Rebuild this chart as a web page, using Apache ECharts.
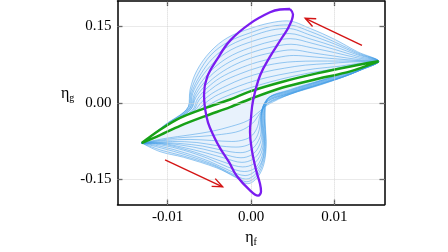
<!DOCTYPE html>
<html>
<head>
<meta charset="utf-8">
<script src="https://cdn.jsdelivr.net/npm/echarts@6/dist/echarts.min.js"></script>
<style>
html, body { margin: 0; background: #fff; }
#chart { width: 448px; height: 252px; }
</style>
</head>
<body>
<div id="chart"></div>
<script>
// tick values
var xTicks = [-0.01, 0, 0.01];
var yTicks = [-0.15, 0, 0.15];

// green loop (eta_f, eta_g)
var greenLoop = [
  [-0.0131, -0.079], [-0.0109, -0.0530], [-0.0085, -0.0296], [-0.0055, -0.0105], [-0.0025, 0.0065],
  [-0.0001, 0.0225], [0.0038, 0.0415], [0.0079, 0.0578], [0.0119, 0.0715], [0.0153, 0.0815],
  [0.0119, 0.0618], [0.0079, 0.0468], [0.0038, 0.0300], [-0.0001, 0.0075], [-0.0025, -0.0085],
  [-0.0055, -0.0262], [-0.0085, -0.0452], [-0.0109, -0.0635], [-0.0131, -0.079]
];

// purple loop
var purpleLoop = [
  [0.00467, 0.1843], [0.00347, 0.1833], [0.00228, 0.1778], [-0.00012, 0.1556], [-0.00251, 0.1222],
  [-0.00407, 0.0852], [-0.00527, 0.05], [-0.00563, 0.0167], [-0.00551, -0.0111], [-0.00515, -0.0389],
  [-0.00443, -0.0667], [-0.00371, -0.0889], [-0.00263, -0.1167], [-0.00168, -0.1444], [-0.00012, -0.1722],
  [0.00084, -0.1824], [0.0012, -0.1741], [0.00108, -0.1593], [0.0006, -0.1315], [0.00012, -0.0944],
  [-0.00012, -0.0574], [0, -0.0296], [0.00024, 0.0037], [0.00108, 0.0537], [0.00228, 0.0907],
  [0.00371, 0.1278], [0.00455, 0.15], [0.00503, 0.1741], [0.00467, 0.1843]
];

// blue loops, outermost first
var blueLoop1 = [
  [-0.0131, -0.079], [-0.0103, -0.043], [-0.0075, -0.007], [-0.0073, 0.026], [-0.0065, 0.063],
  [-0.0049, 0.100], [-0.0028, 0.128], [-0.0001, 0.146], [0.0023, 0.157], [0.0043, 0.161],
  [0.0071, 0.146], [0.0101, 0.124], [0.0128, 0.100], [0.0153, 0.0815],
  [0.0119, 0.063], [0.0083, 0.044], [0.0047, 0.026], [0.0020, 0.007], [0.0017, -0.030],
  [0.0018, -0.076], [0.0016, -0.117], [0.0008, -0.146], [-0.0004, -0.159], [-0.0019, -0.146],
  [-0.0041, -0.128], [-0.0081, -0.107], [-0.0109, -0.096], [-0.0131, -0.079]
];
var blueLoop2 = [
  [-0.0131, -0.079], [-0.0103, -0.044], [-0.0075, -0.008], [-0.0072, 0.023], [-0.0063, 0.058],
  [-0.0048, 0.094], [-0.0027, 0.120], [0, 0.138], [0.0024, 0.150], [0.0044, 0.153],
  [0.0071, 0.140], [0.0101, 0.119], [0.0128, 0.098], [0.0153, 0.0815],
  [0.0119, 0.062], [0.0083, 0.043], [0.0047, 0.025], [0.0019, 0.006], [0.0016, -0.030],
  [0.0018, -0.076], [0.0015, -0.115], [0.0007, -0.143], [-0.0005, -0.155], [-0.0021, -0.143],
  [-0.0044, -0.124], [-0.0080, -0.105], [-0.0108, -0.093], [-0.0131, -0.079]
];
var blueLoop3 = [
  [-0.0131, -0.079], [-0.0103, -0.044], [-0.0074, -0.009], [-0.0071, 0.020], [-0.0061, 0.054],
  [-0.0046, 0.087], [-0.0025, 0.113], [0.0001, 0.131], [0.0025, 0.143], [0.0044, 0.146],
  [0.0071, 0.133], [0.0101, 0.115], [0.0128, 0.096], [0.0153, 0.0815],
  [0.0119, 0.061], [0.0083, 0.043], [0.0047, 0.024], [0.0019, 0.006], [0.0016, -0.030],
  [0.0017, -0.076], [0.0014, -0.113], [0.0006, -0.139], [-0.0006, -0.150], [-0.0023, -0.139],
  [-0.0047, -0.120], [-0.0079, -0.102], [-0.0107, -0.089], [-0.0131, -0.079]
];
var blueLoop4 = [
  [-0.0131, -0.079], [-0.0102, -0.045], [-0.0073, -0.010], [-0.0070, 0.018], [-0.0060, 0.049],
  [-0.0044, 0.080], [-0.0024, 0.104], [0.0002, 0.121], [0.0027, 0.132], [0.0046, 0.136],
  [0.0072, 0.125], [0.0101, 0.110], [0.0128, 0.094], [0.0153, 0.0815],
  [0.0119, 0.060], [0.0083, 0.042], [0.0047, 0.023], [0.0018, 0.005], [0.0015, -0.030],
  [0.0016, -0.074], [0.0014, -0.110], [0.0005, -0.134], [-0.0007, -0.143], [-0.0026, -0.133],
  [-0.0050, -0.115], [-0.0080, -0.098], [-0.0107, -0.086], [-0.0131, -0.079]
];
var blueLoop5 = [
  [-0.0131, -0.079], [-0.0102, -0.046], [-0.0073, -0.011], [-0.0068, 0.017], [-0.0058, 0.044],
  [-0.0042, 0.072], [-0.0022, 0.094], [0.0004, 0.111], [0.0028, 0.122], [0.0047, 0.126],
  [0.0073, 0.117], [0.0102, 0.104], [0.0128, 0.091], [0.0153, 0.0815],
  [0.0119, 0.059], [0.0083, 0.041], [0.0047, 0.022], [0.0018, 0.004], [0.0014, -0.030],
  [0.0016, -0.072], [0.0013, -0.106], [0.0005, -0.128], [-0.0008, -0.135], [-0.0028, -0.126],
  [-0.0052, -0.109], [-0.0081, -0.093], [-0.0107, -0.083], [-0.0131, -0.079]
];
var blueLoop6 = [
  [-0.0131, -0.079], [-0.0101, -0.047], [-0.0072, -0.012], [-0.0067, 0.014], [-0.0056, 0.040],
  [-0.0040, 0.065], [-0.0020, 0.085], [0.0005, 0.101], [0.0029, 0.111], [0.0048, 0.115],
  [0.0073, 0.108], [0.0102, 0.098], [0.0128, 0.088], [0.0153, 0.0815],
  [0.0119, 0.058], [0.0083, 0.040], [0.0047, 0.021], [0.0018, 0.003], [0.0013, -0.030],
  [0.0015, -0.070], [0.0012, -0.100], [0.0003, -0.120], [-0.0010, -0.126], [-0.0030, -0.118],
  [-0.0054, -0.104], [-0.0082, -0.090], [-0.0107, -0.081], [-0.0131, -0.079]
];
var blueLoop7 = [
  [-0.0131, -0.079], [-0.0101, -0.048], [-0.0072, -0.013], [-0.0066, 0.011], [-0.0054, 0.035],
  [-0.0038, 0.057], [-0.0018, 0.076], [0.0006, 0.091], [0.0030, 0.100], [0.0049, 0.104],
  [0.0074, 0.098], [0.0103, 0.091], [0.0129, 0.085], [0.0153, 0.0815],
  [0.0119, 0.057], [0.0083, 0.039], [0.0047, 0.020], [0.0018, 0.002], [0.0013, -0.030],
  [0.0014, -0.067], [0.0011, -0.094], [0.0002, -0.111], [-0.0011, -0.117], [-0.0031, -0.109],
  [-0.0055, -0.098], [-0.0083, -0.087], [-0.0107, -0.080], [-0.0131, -0.079]
];
var blueLoop8 = [
  [-0.0131, -0.079], [-0.0100, -0.049], [-0.0070, -0.014], [-0.0064, 0.008], [-0.0052, 0.030],
  [-0.0037, 0.049], [-0.0016, 0.066], [0.0008, 0.080], [0.0032, 0.089], [0.0051, 0.093],
  [0.0076, 0.090], [0.0104, 0.086], [0.0130, 0.083], [0.0153, 0.0815],
  [0.0119, 0.056], [0.0083, 0.038], [0.0047, 0.019], [0.0018, 0.001], [0.0012, -0.029],
  [0.0013, -0.062], [0.0009, -0.087], [0.0001, -0.102], [-0.0012, -0.108], [-0.0033, -0.101],
  [-0.0057, -0.091], [-0.0084, -0.083], [-0.0108, -0.079], [-0.0131, -0.079]
];
var blueLoop9 = [
  [-0.0131, -0.079], [-0.0099, -0.050], [-0.0069, -0.015], [-0.0062, 0.006], [-0.0050, 0.024],
  [-0.0035, 0.041], [-0.0013, 0.057], [0.0010, 0.070], [0.0034, 0.078], [0.0053, 0.081],
  [0.0078, 0.082], [0.0105, 0.082], [0.0131, 0.082], [0.0153, 0.0815],
  [0.0119, 0.056], [0.0083, 0.037], [0.0047, 0.019], [0.0018, 0.000], [0.0012, -0.028],
  [0.0012, -0.057], [0.0007, -0.080], [-0.0001, -0.093], [-0.0013, -0.098], [-0.0035, -0.093],
  [-0.0058, -0.085], [-0.0085, -0.080], [-0.0109, -0.078], [-0.0131, -0.079]
];
var blueLoop10 = [
  [-0.0131, -0.079], [-0.0098, -0.051], [-0.0068, -0.016], [-0.0059, 0.002], [-0.0047, 0.018],
  [-0.0030, 0.033], [-0.0009, 0.048], [0.0015, 0.060], [0.0040, 0.068], [0.0065, 0.074],
  [0.0092, 0.077], [0.0118, 0.080], [0.0153, 0.0815],
  [0.0119, 0.056], [0.0083, 0.036], [0.0047, 0.018], [0.0019, -0.001], [0.0012, -0.026],
  [0.0010, -0.052], [0.0005, -0.072], [-0.0004, -0.083], [-0.0018, -0.087], [-0.0041, -0.084],
  [-0.0065, -0.078], [-0.0094, -0.076], [-0.0131, -0.079]
];
var blueLoop11 = [
  [-0.0131, -0.079], [-0.0097, -0.052], [-0.0066, -0.017], [-0.0056, -0.002], [-0.0043, 0.013],
  [-0.0025, 0.026], [-0.0004, 0.039], [0.0020, 0.050], [0.0047, 0.059], [0.0077, 0.067],
  [0.0107, 0.072], [0.0131, 0.078], [0.0153, 0.0815],
  [0.0119, 0.056], [0.0083, 0.035], [0.0047, 0.017], [0.0019, -0.002], [0.0011, -0.024],
  [0.0008, -0.046], [0.0002, -0.063], [-0.0007, -0.072], [-0.0023, -0.076], [-0.0047, -0.074],
  [-0.0073, -0.072], [-0.0103, -0.074], [-0.0131, -0.079]
];
var blueLoop12 = [
  [-0.0131, -0.079], [-0.0096, -0.051], [-0.0063, -0.018], [-0.0050, -0.004], [-0.0034, 0.010],
  [-0.0013, 0.023], [0.0010, 0.035], [0.0037, 0.047], [0.0068, 0.058], [0.0098, 0.066],
  [0.0125, 0.075], [0.0153, 0.0815],
  [0.0119, 0.056], [0.0083, 0.036], [0.0047, 0.017], [0.0019, -0.003], [0.0010, -0.022],
  [0.0002, -0.040], [-0.0013, -0.055], [-0.0035, -0.062], [-0.0060, -0.066], [-0.0088, -0.069],
  [-0.0131, -0.079]
];
var blueLoop13 = [
  [-0.0131, -0.079], [-0.0095, -0.050], [-0.0061, -0.019], [-0.0043, -0.006], [-0.0023, 0.007],
  [0.0001, 0.020], [0.0029, 0.035], [0.0059, 0.048], [0.0089, 0.061], [0.0119, 0.072],
  [0.0153, 0.0815],
  [0.0119, 0.057], [0.0083, 0.037], [0.0047, 0.017], [0.0020, -0.004], [0.0008, -0.020],
  [-0.0004, -0.035], [-0.0023, -0.046], [-0.0047, -0.056], [-0.0073, -0.063], [-0.0103, -0.070],
  [-0.0131, -0.079]
];
var blueLoops = [blueLoop1, blueLoop2, blueLoop3, blueLoop4, blueLoop5, blueLoop6, blueLoop7,
  blueLoop8, blueLoop9, blueLoop10, blueLoop11, blueLoop12, blueLoop13];

// red arrows: [x0, y0, x1, y1]
var arrows = [
  [0.0133, 0.113, 0.0065, 0.166],
  [-0.0103, -0.112, -0.0034, -0.165]
];

var serif = 'Liberation Serif';
var myChart = echarts.init(document.getElementById('chart'));

// filled polygon through the chart's own scale
function loopFill(loop, fill, z) {
  return {
    type: 'custom',
    z: z,
    silent: true,
    data: [[loop[0][0], loop[0][1]]],
    renderItem: function(params, api) {
      var pts = loop.map(function(p) { return api.coord(p); });
      return {
        type: 'polygon',
        shape: { points: pts, smooth: 0.3 },
        style: { fill: fill }
      };
    }
  };
}

var series = [];

var blueFill = loopFill(blueLoop1, 'rgba(110,175,235,0.16)', 1);
blueFill.markLine = {
  silent: true,
  symbol: 'none',
  label: { show: false },
  lineStyle: { type: 'dotted', color: '#d4d4d4', width: 1 },
  data: xTicks.map(function(v) { return { xAxis: v }; })
    .concat(yTicks.map(function(v) { return { yAxis: v }; }))
};
series.push(blueFill);

for (var i = 0; i < blueLoops.length; i++) {
  series.push({
    type: 'line',
    z: 2,
    data: blueLoops[i],
    showSymbol: false,
    smooth: 0.35,
    lineStyle: { color: '#3f9be6', width: 0.7, opacity: 0.75 }
  });
}

// white gap between the two green strands
series.push(loopFill(greenLoop, '#ffffff', 3));

series.push({
  type: 'line', z: 4, data: greenLoop, showSymbol: false, smooth: 0.3,
  lineStyle: { color: '#17a117', width: 2.5 }
});
series.push({
  type: 'line', z: 5, data: purpleLoop, showSymbol: false, smooth: 0.4,
  lineStyle: { color: '#7a1df0', width: 2.3 }
});

series.push({
  type: 'custom',
  z: 6,
  data: arrows,
  encode: { x: [0, 2], y: [1, 3] },
  renderItem: function(params, api) {
    var p0 = api.coord([api.value(0), api.value(1)]);
    var p1 = api.coord([api.value(2), api.value(3)]);
    var ang = Math.atan2(p1[1] - p0[1], p1[0] - p0[0]);
    var len = 11, spread = 0.4;
    var h1 = [p1[0] - len * Math.cos(ang - spread), p1[1] - len * Math.sin(ang - spread)];
    var h2 = [p1[0] - len * Math.cos(ang + spread), p1[1] - len * Math.sin(ang + spread)];
    var st = { stroke: '#d41414', lineWidth: 1.4, fill: null };
    return {
      type: 'group',
      children: [
        { type: 'line', shape: { x1: p0[0], y1: p0[1], x2: p1[0], y2: p1[1] }, style: st },
        { type: 'polyline', shape: { points: [h1, p1, h2] }, style: st }
      ]
    };
  }
});

var axisLineStyle = { color: '#000', width: 1.5 };
var option = {
  animation: false,
  grid: { left: 117.5, width: 267, top: 1, height: 216 },
  xAxis: [{
    type: 'value', min: -0.016, max: 0.016, position: 'bottom',
    axisLine: { show: true, onZero: false, lineStyle: axisLineStyle },
    axisTick: { inside: true, length: 5, customValues: xTicks, lineStyle: { color: '#000', width: 1.2 } },
    axisLabel: {
      customValues: xTicks, margin: 5, color: '#000', fontFamily: serif, fontSize: 15,
      formatter: function(v) { return v.toFixed(2); }
    },
    splitLine: { show: false },
    name: '{m|η}{s|f}', nameLocation: 'middle', nameGap: 16,
    nameTextStyle: {
      rich: {
        m: { fontFamily: serif, fontSize: 16, color: '#000' },
        s: { fontFamily: serif, fontSize: 10, color: '#000', padding: [9, 0, 0, 0] }
      }
    }
  }, {
    type: 'value', min: -0.016, max: 0.016, position: 'top',
    axisLine: { show: true, onZero: false, lineStyle: axisLineStyle },
    axisTick: { inside: true, length: 5, customValues: xTicks, lineStyle: { color: '#000', width: 1.2 } },
    axisLabel: { show: false },
    splitLine: { show: false }
  }],
  yAxis: [{
    type: 'value', min: -0.2, max: 0.2, position: 'left',
    axisLine: { show: true, onZero: false, lineStyle: axisLineStyle },
    axisTick: { inside: true, length: 5, customValues: yTicks, lineStyle: { color: '#000', width: 1.2 } },
    axisLabel: {
      customValues: yTicks, margin: 6, color: '#000', fontFamily: serif, fontSize: 15,
      formatter: function(v) { return v.toFixed(2); }
    },
    splitLine: { show: false },
    name: '{m|η}{s|g}', nameLocation: 'middle', nameGap: 40, nameRotate: 0,
    nameTextStyle: {
      padding: [0, 0, 18, 0],
      rich: {
        m: { fontFamily: serif, fontSize: 16, color: '#000' },
        s: { fontFamily: serif, fontSize: 10, color: '#000', padding: [9, 0, 0, 0] }
      }
    }
  }, {
    type: 'value', min: -0.2, max: 0.2, position: 'right',
    axisLine: { show: true, onZero: false, lineStyle: axisLineStyle },
    axisTick: { inside: true, length: 5, customValues: yTicks, lineStyle: { color: '#000', width: 1.2 } },
    axisLabel: { show: false },
    splitLine: { show: false }
  }],
  series: series
};

myChart.setOption(option);
window.onresize = function() {
  myChart.resize();
};
</script>
</body>
</html>
